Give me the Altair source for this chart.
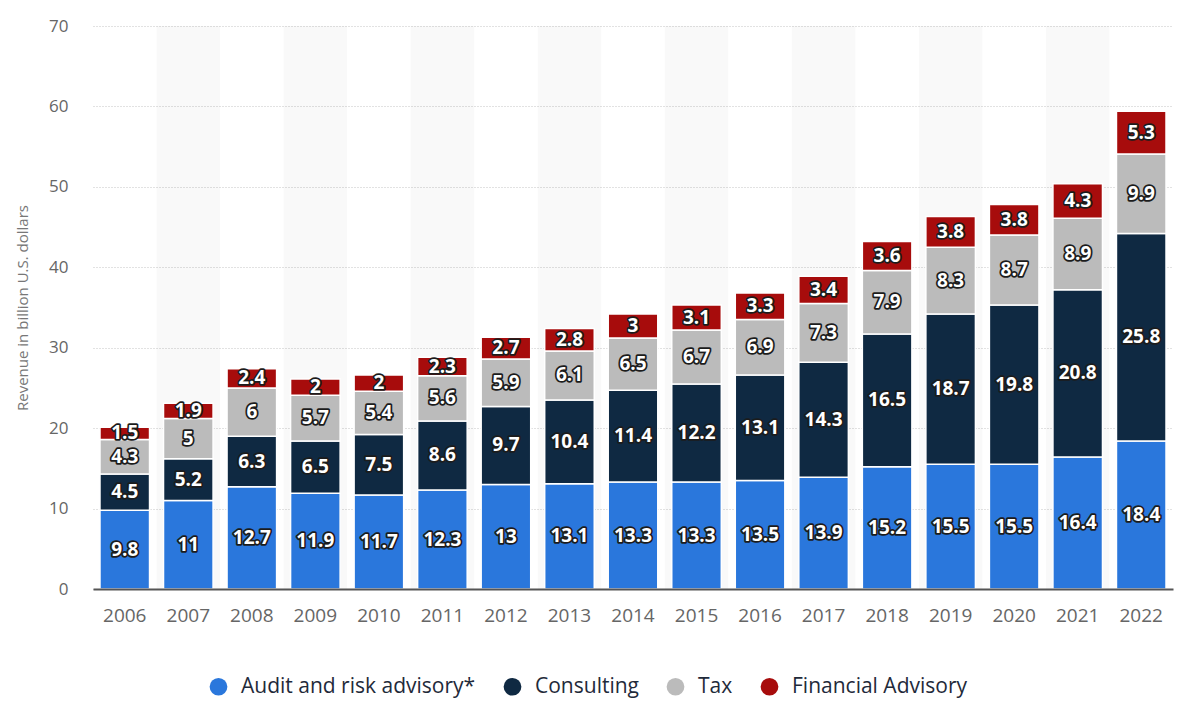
import altair as alt
import pandas as pd

years = list(range(2006, 2023))
series = ["Audit and risk advisory*", "Consulting", "Tax", "Financial Advisory"]
colors = ["#2a77dc", "#0f2942", "#bbbbbb", "#a70c0c"]

audit = [9.8, 11, 12.7, 11.9, 11.7, 12.3, 13, 13.1, 13.3, 13.3, 13.5, 13.9, 15.2, 15.5, 15.5, 16.4, 18.4]
consulting = [4.5, 5.2, 6.3, 6.5, 7.5, 8.6, 9.7, 10.4, 11.4, 12.2, 13.1, 14.3, 16.5, 18.7, 19.8, 20.8, 25.8]
tax = [4.3, 5, 6, 5.7, 5.4, 5.6, 5.9, 6.1, 6.5, 6.7, 6.9, 7.3, 7.9, 8.3, 8.7, 8.9, 9.9]
financial = [1.5, 1.9, 2.4, 2, 2, 2.3, 2.7, 2.8, 3, 3.1, 3.3, 3.4, 3.6, 3.8, 3.8, 4.3, 5.3]

y_ticks = [0, 10, 20, 30, 40, 50, 60, 70]
stripe_years = years[1::2]

rows = []
for idx, (name, vals) in enumerate(zip(series, [audit, consulting, tax, financial])):
    for yr, v in zip(years, vals):
        rows.append({"year": yr, "series": name, "idx": idx, "value": v, "label": f"{v:g}"})
df = pd.DataFrame(rows)
stripes_df = pd.DataFrame({"year": stripe_years})

FONT = "Open Sans"

x_enc = alt.X(
    "year:O",
    scale=alt.Scale(paddingInner=0, paddingOuter=0),
    axis=alt.Axis(
        title=None, labelAngle=0, ticks=False, grid=False,
        domainColor="#555555", domainWidth=2,
        labelFont=FONT, labelFontSize=19, labelColor="#666666", labelPadding=17,
        zindex=1,
    ),
)

y_scale = alt.Scale(domain=[0, 70], nice=False)

stripes = alt.Chart(stripes_df).mark_rect(fill="#000000", fillOpacity=0.025).encode(
    x=x_enc,
    y=alt.datum(0, scale=y_scale),
    y2=alt.datum(70),
)

base = alt.Chart(df).transform_stack(
    stack="value", groupby=["year"], as_=["y0", "y1"],
    sort=[alt.SortField("idx", order="ascending")],
).transform_calculate(mid="(datum.y0 + datum.y1) / 2")

bars = base.mark_bar(stroke="white", strokeWidth=1.5, width=alt.RelativeBandSize(0.78)).encode(
    x=x_enc,
    y=alt.Y(
        "y0:Q",
        scale=y_scale,
        axis=alt.Axis(
            values=y_ticks, grid=True, gridDash=[1, 2], gridColor="#c4c4c4",
            domain=False, ticks=False,
            labelFont=FONT, labelFontSize=17, labelColor="#666666", labelPadding=25,
            title="Revenue in billion U.S. dollars", titleFont=FONT, titleFontSize=15,
            titleFontWeight="normal", titleColor="#777777", titlePadding=18,
        ),
    ),
    y2="y1:Q",
    color=alt.Color(
        "series:N",
        scale=alt.Scale(domain=series, range=colors),
        legend=alt.Legend(
            title=None, orient="none", direction="horizontal",
            legendX=115, legendY=650,
            symbolType="circle", symbolSize=314, symbolStrokeWidth=0,
            labelFont=FONT, labelFontSize=21, labelColor="#1f2a3a", labelLimit=0,
            labelOffset=12, columnPadding=26,
        ),
    ),
)

outline = base.mark_text(
    font=FONT, fontSize=19, fontWeight="bold",
    stroke="#1c1c1c", strokeWidth=3.5, strokeJoin="round", fill="#1c1c1c",
).encode(x=x_enc, y="mid:Q", text="label:N")

labels = base.mark_text(
    font=FONT, fontSize=19, fontWeight="bold", fill="white",
).encode(x=x_enc, y="mid:Q", text="label:N")

chart = alt.layer(stripes, bars, outline, labels).properties(
    width=1080, height=563,
    autosize=alt.AutoSizeParams(type="none"),
    padding={"left": 85, "top": 18, "right": 5, "bottom": 110},
).configure_view(stroke=None)

chart.save("out.html", embed_options={"renderer": "svg", "actions": False})
